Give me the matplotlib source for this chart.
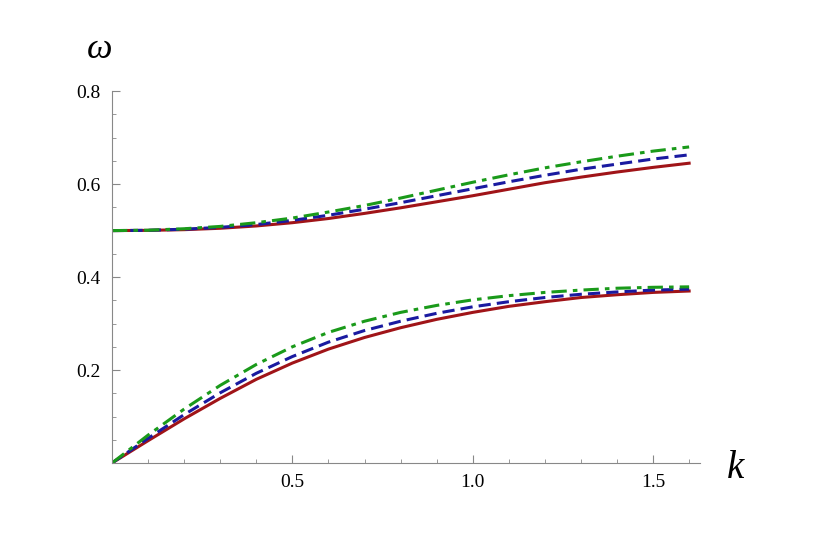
import matplotlib
matplotlib.use("Agg")
import matplotlib.pyplot as plt
from matplotlib.ticker import MultipleLocator, FixedLocator

k = [0.0,0.1,0.2,0.3,0.4,0.5,0.6,0.7,0.8,0.9,1.0,1.1,1.2,1.3,1.4,1.5,1.6]
low_red   = [0,0.048,0.095,0.139,0.180,0.215,0.245,0.270,0.291,0.309,0.324,0.337,0.347,0.356,0.362,0.367,0.370]
low_blue  = [0,0.053,0.104,0.151,0.193,0.229,0.260,0.285,0.305,0.322,0.336,0.347,0.356,0.363,0.368,0.372,0.374]
low_green = [0,0.060,0.116,0.167,0.212,0.250,0.281,0.305,0.324,0.339,0.351,0.360,0.367,0.372,0.376,0.378,0.379]
up_red    = [0.5,0.5005,0.502,0.505,0.510,0.517,0.526,0.537,0.549,0.562,0.575,0.589,0.603,0.615,0.626,0.636,0.645]
up_blue   = [0.5,0.5006,0.503,0.507,0.513,0.522,0.533,0.546,0.560,0.575,0.590,0.605,0.619,0.632,0.643,0.654,0.663]
up_green  = [0.5,0.5008,0.504,0.509,0.517,0.527,0.540,0.554,0.570,0.587,0.604,0.620,0.635,0.648,0.660,0.671,0.680]
xticks = [0.5, 1.0, 1.5]
yticks = [0.2, 0.4, 0.6, 0.8]

red, blue, green = "#a01418", "#1a1aa0", "#1a9a1a"

fig = plt.figure(figsize=(8.2, 5.35), dpi=100)
ax = fig.add_axes([0.1366, 0.1346, 0.717, 0.695])
for y, c, ls in [(low_red, red, "-"), (low_blue, blue, (0, (4, 2))), (low_green, green, (0, (5, 2, 1.5, 2))),
                 (up_red, red, "-"), (up_blue, blue, (0, (4, 2))), (up_green, green, (0, (5, 2, 1.5, 2)))]:
    ax.plot(k, y, color=c, ls=ls, lw=2.2)
ax.set_xlim(0, 1.63)
ax.set_ylim(0, 0.8)
for s in ["top", "right"]:
    ax.spines[s].set_visible(False)
for s in ["left", "bottom"]:
    ax.spines[s].set_color("#888888")
ax.xaxis.set_major_locator(FixedLocator(xticks))
ax.yaxis.set_major_locator(FixedLocator(yticks))
ax.xaxis.set_minor_locator(MultipleLocator(0.1))
ax.yaxis.set_minor_locator(MultipleLocator(0.05))
ax.tick_params(which="both", direction="in", color="#888888")
ax.tick_params(which="major", length=6, pad=8)
ax.tick_params(which="minor", length=3)
ax.set_xticklabels(["0.5", "1.0", "1.5"], family="Liberation Serif", fontsize=14)
ax.set_yticklabels(["0.2", "0.4", "0.6", "0.8"], family="Liberation Serif", fontsize=14)
fig.text(100/820, 1-50/535, "ω", family="Liberation Serif", style="italic", fontsize=26, ha="center", va="center")
fig.text(736/820, 1-468/535, "k", family="Liberation Serif", style="italic", fontsize=28, ha="center", va="center")
fig.savefig("out.png", facecolor="white")
